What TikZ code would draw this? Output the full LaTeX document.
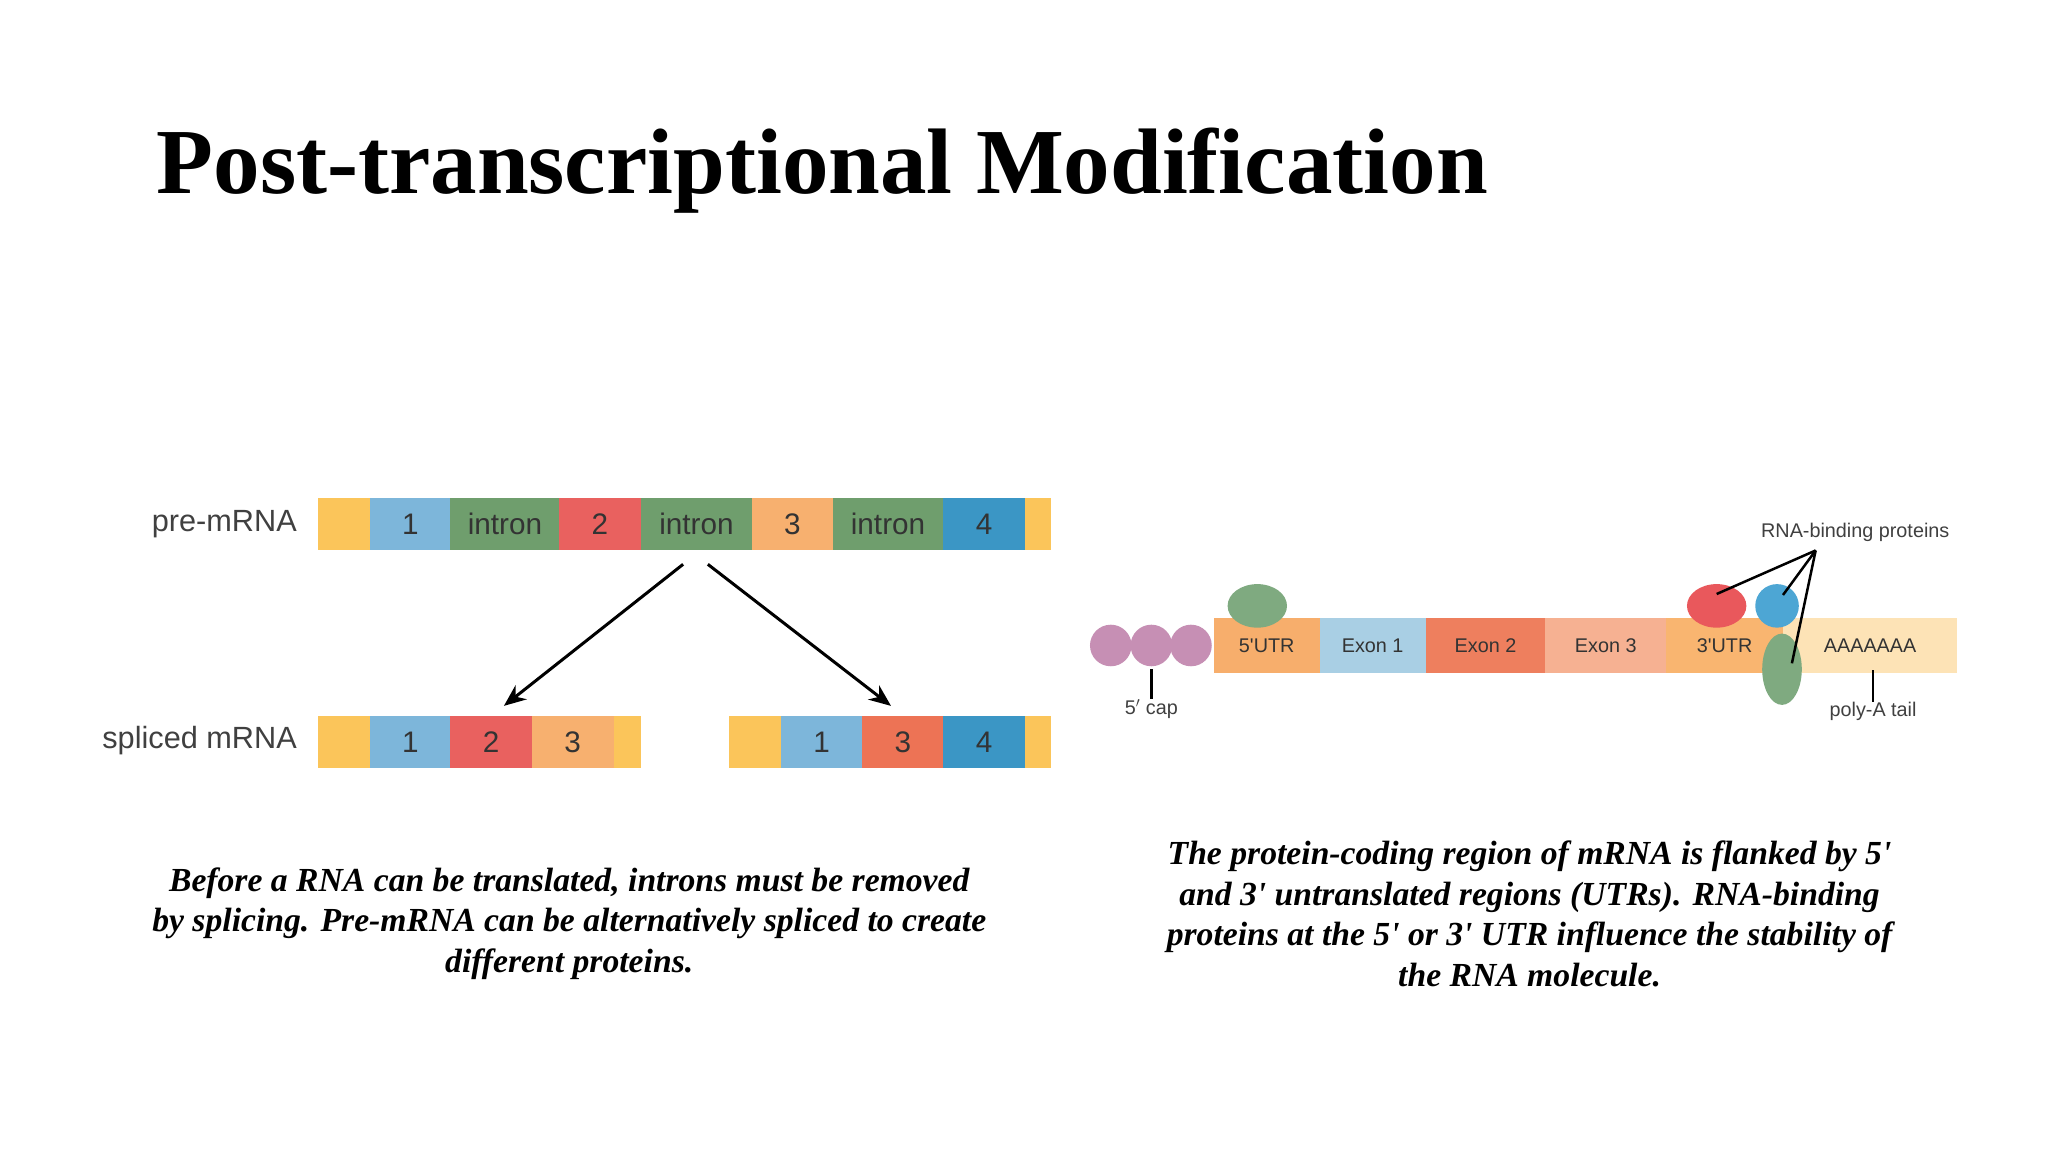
\documentclass[tikz,border=0pt]{standalone}
\usepackage{fontspec}
\setmainfont{Liberation Serif}
\newfontfamily\arial{Liberation Sans}
\usetikzlibrary{arrows.meta}
\definecolor{cyel}{HTML}{FBC55A}
\definecolor{cblue}{HTML}{7DB6DA}
\definecolor{cgreen}{HTML}{6F9E6D}
\definecolor{cred}{HTML}{E9615F}
\definecolor{corange}{HTML}{F7B06F}
\definecolor{cdblue}{HTML}{3B96C5}
\definecolor{cthree}{HTML}{ED7355}
\definecolor{rutr}{HTML}{F7AE6C}
\definecolor{rex1}{HTML}{A9CFE4}
\definecolor{rex2}{HTML}{EE7F5E}
\definecolor{rex3}{HTML}{F6B192}
\definecolor{rutrb}{HTML}{F9B570}
\definecolor{rtail}{HTML}{FDE3B6}
\definecolor{rcap}{HTML}{C68FB4}
\definecolor{rgreen}{HTML}{7FAA80}
\definecolor{rredp}{HTML}{E9585C}
\definecolor{rbluep}{HTML}{4DA6D4}
\newcommand{\pq}{\textquotesingle}
\begin{document}
\begin{tikzpicture}[x=1pt,y=-1pt,scale=0.99,every node/.append style={transform shape},
  seg/.style={rectangle,inner sep=0pt,minimum height=53pt,font=\arial\fontsize{30}{30}\selectfont,text=black!80},
  rseg/.style={rectangle,inner sep=0pt,minimum height=56pt,font=\arial\fontsize{20}{20}\selectfont,text=black!80},
  lbl/.style={font=\arial\fontsize{31}{31}\selectfont,text=black!75,inner sep=0pt},
  slbl/.style={font=\arial\fontsize{20}{20}\selectfont,text=black!75,inner sep=0pt},
  captext/.style={font=\bfseries\itshape\fontsize{34}{41}\selectfont,align=center,inner sep=0pt},
  arr/.style={line width=3pt,-{Stealth[length=22pt,width=18pt]}},
  pl/.style={line width=2.5pt}]
\useasboundingbox (0,0) rectangle (2068.7,1163.6);
\fill[white] (0,0) rectangle (2068.7,1163.6);
\node[font=\bfseries\fontsize{94}{94}\selectfont,anchor=west,inner sep=0pt] (title) at (158,172) {Post-transcriptional Modification};
% pre-mRNA
\node[lbl,anchor=east] (prelbl) at (300,529) {pre-mRNA};
\node[seg,fill=cyel,minimum width=53pt] (p0) at (347.5,529.5) {};
\node[seg,fill=cblue,minimum width=81pt] (p1) at (414.5,529.5) {1};
\node[seg,fill=cgreen,minimum width=110pt] (p2) at (510,529.5) {intron};
\node[seg,fill=cred,minimum width=82pt] (p3) at (606,529.5) {2};
\node[seg,fill=cgreen,minimum width=113pt] (p4) at (703.5,529.5) {intron};
\node[seg,fill=corange,minimum width=81pt] (p5) at (800.5,529.5) {3};
\node[seg,fill=cgreen,minimum width=112pt] (p6) at (897,529.5) {intron};
\node[seg,fill=cdblue,minimum width=82pt] (p7) at (994,529.5) {4};
\node[seg,fill=cyel,minimum width=27pt] (p8) at (1048.5,529.5) {};
% spliced
\node[lbl,anchor=east] (splbl) at (300,748) {spliced mRNA};
\node[seg,fill=cyel,minimum width=53pt] (a0) at (347.5,749.5) {};
\node[seg,fill=cblue,minimum width=81pt] (a1) at (414.5,749.5) {1};
\node[seg,fill=cred,minimum width=82pt] (a2) at (496,749.5) {2};
\node[seg,fill=corange,minimum width=83pt] (a3) at (578.5,749.5) {3};
\node[seg,fill=cyel,minimum width=27pt] (a4) at (633.5,749.5) {};
\node[seg,fill=cyel,minimum width=53pt] (b0) at (762.5,749.5) {};
\node[seg,fill=cblue,minimum width=82pt] (b1) at (830,749.5) {1};
\node[seg,fill=cthree,minimum width=82pt] (b2) at (912,749.5) {3};
\node[seg,fill=cdblue,minimum width=82pt] (b3) at (994,749.5) {4};
\node[seg,fill=cyel,minimum width=27pt] (b4) at (1048.5,749.5) {};
\coordinate (s1) at (690,570);
\coordinate (s2) at (715,570);
\coordinate (e1) at (509,713);
\coordinate (e2) at (900,713);
\draw[arr] (s1) -- (e1);
\draw[arr] (s2) -- (e2);
% right diagram
\node[rseg,fill=rutr,minimum width=107pt] (r0) at (1279.5,652) {5\pq UTR};
\node[rseg,fill=rex1,minimum width=107pt] (r1) at (1386.5,652) {Exon 1};
\node[rseg,fill=rex2,minimum width=121pt] (r2) at (1500.5,652) {Exon 2};
\node[rseg,fill=rex3,minimum width=122pt] (r3) at (1622,652) {Exon 3};
\node[rseg,fill=rutrb,minimum width=118pt] (r4) at (1742,652) {3\pq UTR};
\node[rseg,fill=rtail,minimum width=176pt] (r5) at (1889,652) {AAAAAAA};
\foreach \i/\x in {1/1122,2/1163,3/1203} \fill[rcap] (\x,652) circle (21);
\fill[rgreen] (1270,612) ellipse (30 and 22);
\fill[rredp] (1734,612) ellipse (30 and 22);
\fill[rbluep] (1795,612) circle (22);
\fill[rgreen] (1800,676) ellipse (20 and 36);
\node[slbl] (rbp) at (1874,538) {RNA-binding proteins};
\coordinate (hub) at (1834,556);
\coordinate (tr) at (1734,600);
\coordinate (tb) at (1801,601);
\coordinate (tg) at (1810,670);
\draw[pl] (hub) -- (tr);
\draw[pl] (hub) -- (tb);
\draw[pl] (hub) -- (tg);
\coordinate (capt) at (1163,676);
\node[slbl] (capl) at (1163,716) {5$'$ cap};
\draw[pl] (capt) -- (capl.north);
\coordinate (polyt) at (1892,677);
\node[slbl] (poly) at (1892,719) {poly-A tail};
\draw[pl] (polyt) -- (poly.north);
% captions
\node[captext] (c1) at (575,933) {Before a RNA can be translated, introns must be removed\\by splicing. Pre-mRNA can be alternatively spliced to create\\different proteins.};
\node[captext] (c2) at (1545,923) {The protein-coding region of mRNA is flanked by 5\pq\\and 3\pq\ untranslated regions (UTRs). RNA-binding\\proteins at the 5\pq\ or 3\pq\ UTR influence the stability of\\the RNA molecule.};
\end{tikzpicture}
\end{document}
